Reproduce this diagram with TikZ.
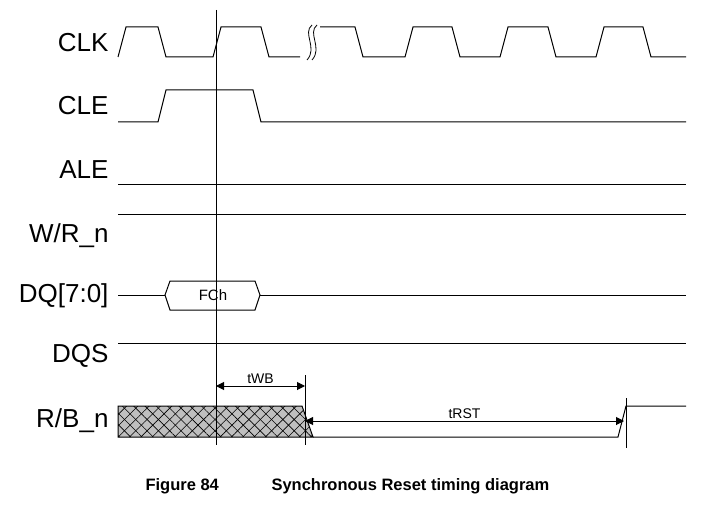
\documentclass[tikz,border=0pt]{standalone}
\usepackage{fontspec}
\setmainfont{Liberation Sans}
\usetikzlibrary{patterns.meta,arrows.meta}
\tikzset{
  sig/.style={line width=1pt},
  lbl/.style={anchor=east,font=\fontsize{26}{30}\selectfont},
  tm/.style={font=\fontsize{14}{16}\selectfont,anchor=south,inner sep=2pt},
  dim/.style={line width=1pt,{Triangle[length=8pt,width=8pt]}-{Triangle[length=8pt,width=8pt]}}
}
\begin{document}
\begin{tikzpicture}[x=1pt,y=-1pt]
    \useasboundingbox (0,0) rectangle (711,510);

    % Signal names
    \node[lbl] (nclk) at (112,43) {CLK};
    \node[lbl] (ncle) at (112,106) {CLE};
    \node[lbl] (nale) at (112,170) {ALE};
    \node[lbl] (nwr) at (112,236) {W/R\_n};
    \node[lbl] (ndq) at (112,296) {DQ[7:0]};
    \node[lbl] (ndqs) at (112,356) {DQS};
    \node[lbl] (nrb) at (112,421) {R/B\_n};

    % Clock
    \draw[sig] (118,57) -- (126,27) -- (158,27) -- (166,57) -- (213,57) -- (221,27)
      -- (261,27) -- (269,57) -- (300,57);
    \draw[sig] (320,27) -- (355,27) -- (363,57) -- (405,57) -- (413,27) -- (452,27)
      -- (460,57) -- (500,57) -- (508,27) -- (548,27) -- (556,57) -- (596,57)
      -- (604,27) -- (643,27) -- (651,57) -- (686,57);
    % Break mark
    \draw[line width=0.8pt] (312,25) .. controls (302,33) and (318,48) .. (307,60);
    \draw[line width=0.8pt] (317,25) .. controls (307,33) and (323,48) .. (312,60);

    % CLE
    \draw[sig] (118,122) -- (158,122) -- (166,90) -- (253,90) -- (261,122) -- (686,122);

    % ALE, W/R_n, DQS
    \draw[sig] (118,185) -- (686,185);
    \draw[sig] (118,215) -- (686,215);
    \draw[sig] (118,343) -- (686,343);

    % DQ bus
    \draw[sig] (118,295) -- (165,295);
    \draw[sig] (165,295) -- (170,281) -- (255,281) -- (260,295) -- (255,310) -- (170,310) -- cycle;
    \draw[sig] (260,295) -- (686,295);

    % R/B_n
    \fill[gray!50] (118,406) -- (302,406) -- (313,437) -- (118,437) -- cycle;
    \fill[pattern={Lines[angle=45,distance=8pt,line width=0.6pt]}]
      (118,406) -- (302,406) -- (313,437) -- (118,437) -- cycle;
    \fill[pattern={Lines[angle=-45,distance=8pt,line width=0.6pt]}]
      (118,406) -- (302,406) -- (313,437) -- (118,437) -- cycle;
    \draw[sig] (118,406) -- (302,406) -- (313,437) -- (118,437) -- cycle;
    \draw[sig] (313,437) -- (618,437) -- (626,406) -- (686,406);

    % Reference lines
    \draw[line width=0.7pt] (216,10) -- (216,445);
    \draw[line width=0.7pt] (305,375) -- (305,445);
    \draw[line width=0.7pt] (626,398) -- (626,448);
    \node[font=\fontsize{15}{17}\selectfont,inner sep=1pt] (fch) at (213,295) {FCh};

    % Timing
    \coordinate (wba) at (216,386);
    \coordinate (wbb) at (305,386);
    \coordinate (rsa) at (305,421);
    \coordinate (rsb) at (624,421);
    \draw[dim] (wba) -- node[tm] {tWB} (wbb);
    \draw[dim] (rsa) -- node[tm] {tRST} (rsb);

    % Caption
    \node[font=\bfseries\fontsize{16.5}{19}\selectfont,anchor=west] (fig) at (142,486) {Figure 84};
    \node[font=\bfseries\fontsize{16.5}{19}\selectfont,anchor=west] (cap) at (268,486) {Synchronous Reset timing diagram};
\end{tikzpicture}
\end{document}
